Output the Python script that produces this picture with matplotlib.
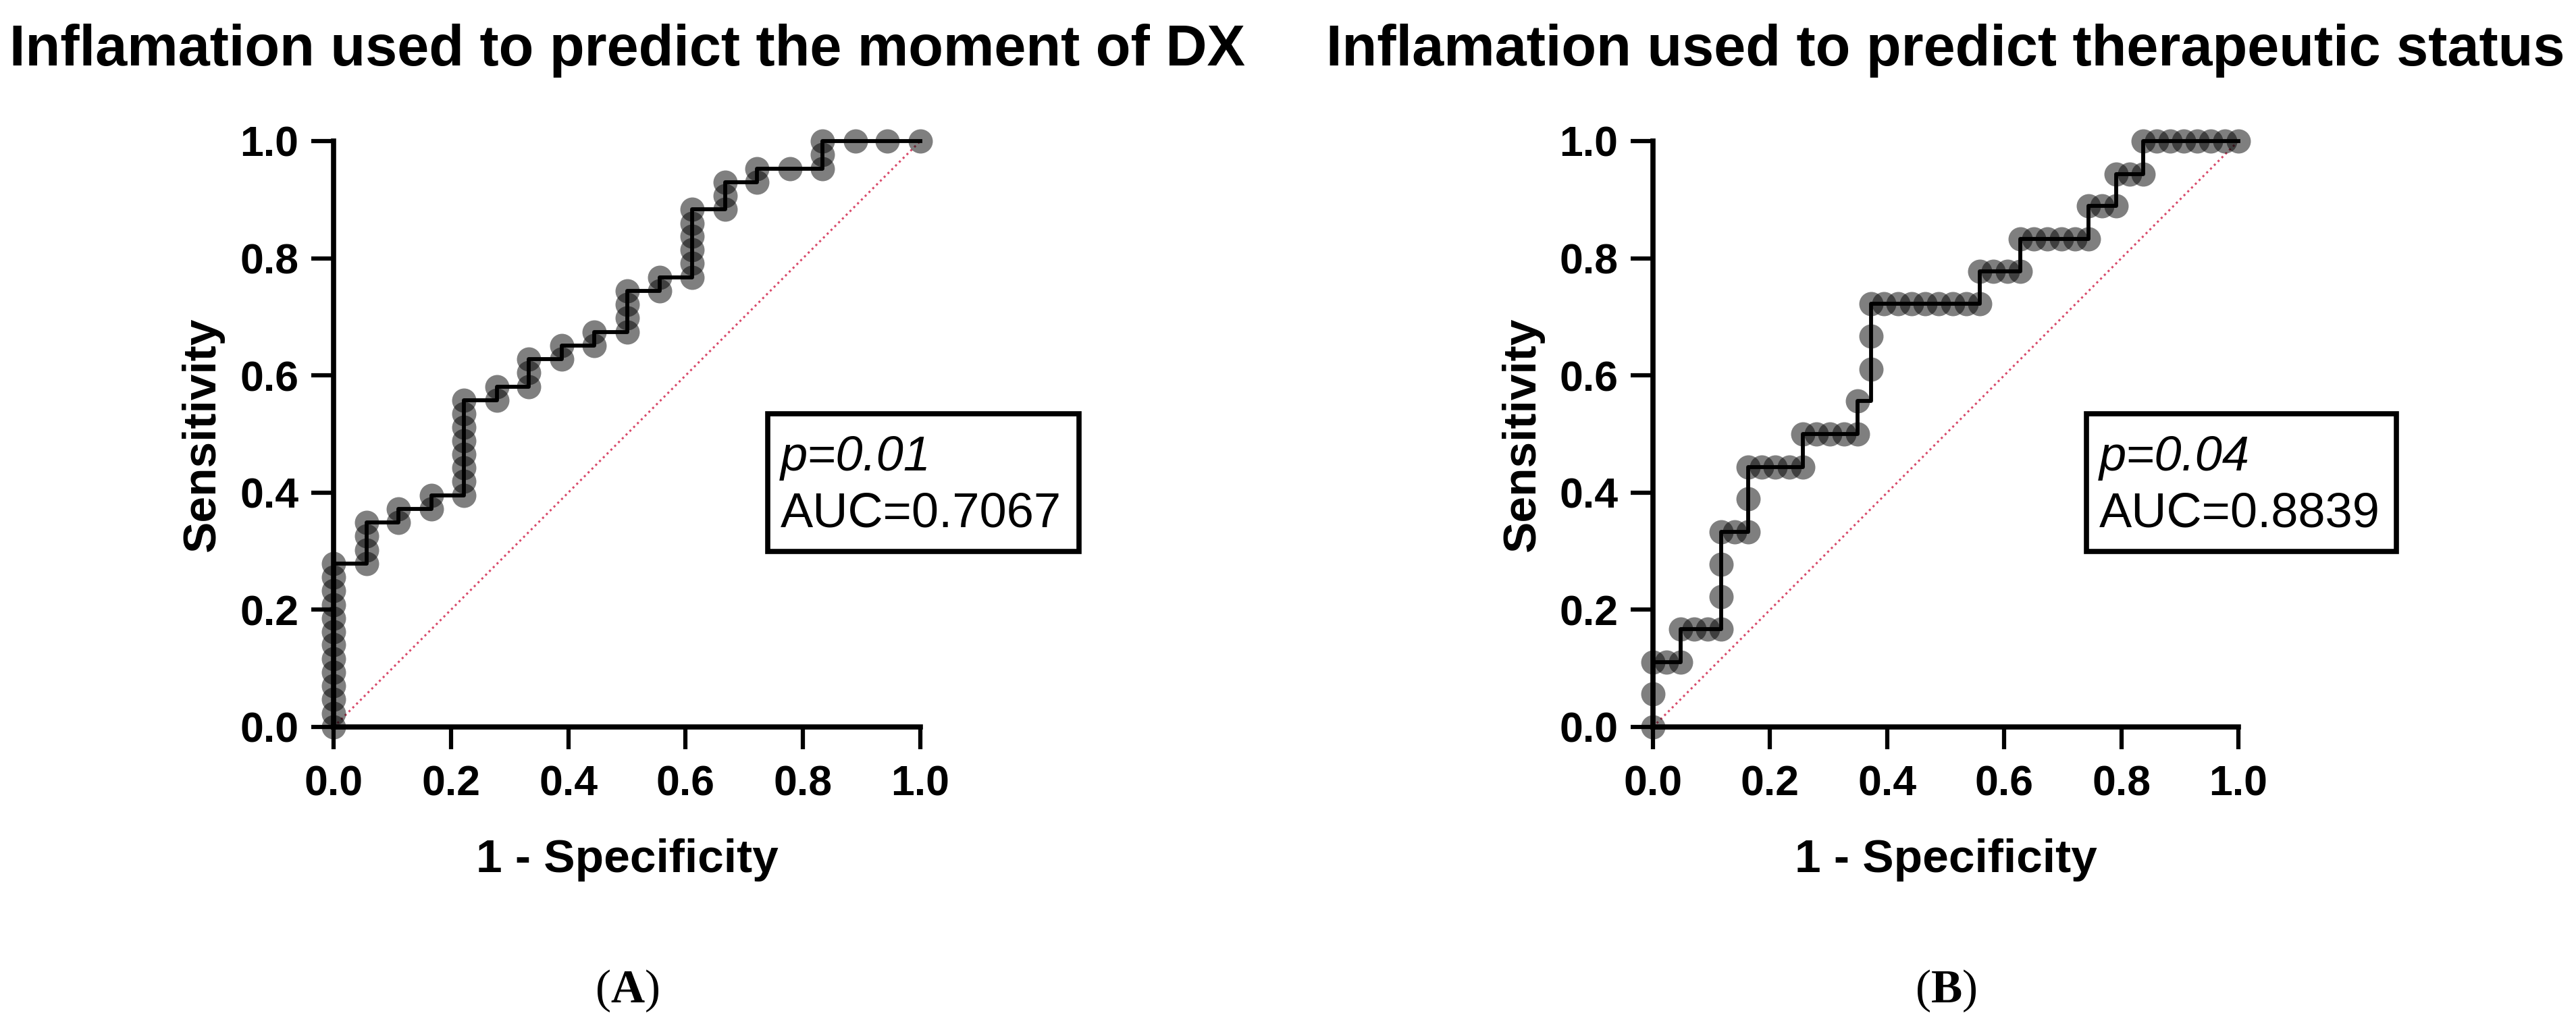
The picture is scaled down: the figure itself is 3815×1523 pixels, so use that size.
import matplotlib
matplotlib.use("Agg")
import matplotlib.pyplot as plt
from matplotlib.patches import Rectangle

plt.rcParams["font.family"] = ["Liberation Sans", "DejaVu Sans"]
plt.rcParams["mathtext.fontset"] = "custom"
plt.rcParams["mathtext.rm"] = "Liberation Serif"
plt.rcParams["mathtext.bf"] = "Liberation Serif:bold"

# ---------- data ----------
TITLES = ["Inflamation used to predict the moment of DX",
          "Inflamation used to predict therapeutic status"]
P_TEXT = ["p=0.01", "p=0.04"]
AUC_TEXT = ["AUC=0.7067", "AUC=0.8839"]
PANEL_TAGS = ["A", "B"]
TICKS = [0.0, 0.2, 0.4, 0.6, 0.8, 1.0]
TICK_LABELS = ["0.0", "0.2", "0.4", "0.6", "0.8", "1.0"]

# panel A: 1 - specificity / sensitivity
dx_fpr = [0, 0, 0, 0, 0, 0, 0, 0, 0, 0, 0, 0, 0,
          0.056, 0.056, 0.056, 0.056,
          0.111, 0.111,
          0.167, 0.167,
          0.222, 0.222, 0.222, 0.222, 0.222, 0.222, 0.222, 0.222,
          0.278, 0.278,
          0.333, 0.333, 0.333,
          0.389, 0.389,
          0.444, 0.444,
          0.5, 0.5, 0.5, 0.5,
          0.556, 0.556,
          0.611, 0.611, 0.611, 0.611, 0.611, 0.611,
          0.667, 0.667, 0.667,
          0.722, 0.722,
          0.778,
          0.833, 0.833, 0.833,
          0.889, 0.944, 1.0]
dx_tpr = [0, 0.023, 0.047, 0.070, 0.093, 0.116, 0.140, 0.163, 0.186, 0.209, 0.233, 0.256, 0.279,
          0.279, 0.302, 0.326, 0.349,
          0.349, 0.372,
          0.372, 0.395,
          0.395, 0.419, 0.442, 0.465, 0.488, 0.512, 0.535, 0.558,
          0.558, 0.581,
          0.581, 0.605, 0.628,
          0.628, 0.651,
          0.651, 0.674,
          0.674, 0.698, 0.721, 0.744,
          0.744, 0.767,
          0.767, 0.791, 0.814, 0.837, 0.860, 0.884,
          0.884, 0.907, 0.930,
          0.930, 0.953,
          0.953,
          0.953, 0.977, 1.0,
          1.0, 1.0, 1.0]

# panel B
tx_fpr = [0, 0, 0,
          0.023,
          0.047, 0.047,
          0.070, 0.093,
          0.116, 0.116, 0.116, 0.116,
          0.140,
          0.163, 0.163, 0.163,
          0.186, 0.209, 0.233,
          0.256, 0.256,
          0.279, 0.302, 0.326,
          0.349, 0.349,
          0.372, 0.372, 0.372,
          0.395, 0.419, 0.442, 0.465, 0.488, 0.512, 0.535,
          0.558, 0.558,
          0.581, 0.605,
          0.628, 0.628,
          0.651, 0.674, 0.698, 0.721,
          0.744, 0.744,
          0.767,
          0.791, 0.791,
          0.814,
          0.837, 0.837,
          0.860, 0.884, 0.907, 0.930, 0.953, 0.977, 1.0]
tx_tpr = [0, 0.056, 0.111,
          0.111,
          0.111, 0.167,
          0.167, 0.167,
          0.167, 0.222, 0.278, 0.333,
          0.333,
          0.333, 0.389, 0.444,
          0.444, 0.444, 0.444,
          0.444, 0.5,
          0.5, 0.5, 0.5,
          0.5, 0.556,
          0.611, 0.667, 0.722,
          0.722, 0.722, 0.722, 0.722, 0.722, 0.722, 0.722,
          0.722, 0.778,
          0.778, 0.778,
          0.778, 0.833,
          0.833, 0.833, 0.833, 0.833,
          0.833, 0.889,
          0.889,
          0.889, 0.944,
          0.944,
          0.944, 1.0,
          1.0, 1.0, 1.0, 1.0, 1.0, 1.0, 1.0]

DIAG_COLOR = "#d84a6a"
W, H = 3815, 1523


def draw_panel(ax, fpr, tpr, title, p_txt, auc_txt, tag):
    ax.plot([0, 1], [0, 1], color=DIAG_COLOR, lw=2.2, ls=(0, (1, 1.6)),
            zorder=1, clip_on=False)
    ax.scatter(fpr, tpr, s=670, color="black", alpha=0.5, linewidths=0,
               zorder=2, clip_on=False)
    ax.plot(fpr, tpr, drawstyle="steps-post", color="black", lw=4.2,
            zorder=3, clip_on=False)

    ax.set_xlim(0, 1)
    ax.set_ylim(0, 1)
    for side in ("top", "right"):
        ax.spines[side].set_visible(False)
    for side in ("left", "bottom"):
        ax.spines[side].set_linewidth(5.5)
        ax.spines[side].set_capstyle("projecting")
    ax.set_xticks(TICKS, labels=TICK_LABELS, fontsize=45, fontweight="bold")
    ax.set_yticks(TICKS, labels=TICK_LABELS, fontsize=45, fontweight="bold")
    ax.tick_params(direction="out", length=24, width=4.5, pad=13)
    ax.tick_params(axis="x", pad=16)

    ax.set_xlabel("1 - Specificity", fontsize=50, fontweight="bold")
    ax.xaxis.set_label_coords(0.5, -0.19)
    ax.set_ylabel("Sensitivity", fontsize=50, fontweight="bold", va="center")
    ax.yaxis.set_label_coords(-0.223, 0.5)

    # p / AUC box
    ax.add_patch(Rectangle((0.74, 0.30), 0.53, 0.235, facecolor="white",
                           edgecolor="black", lw=5.5, zorder=4, clip_on=False))
    ax.text(0.762, 0.438, p_txt, fontsize=52, style="italic", va="baseline",
            zorder=5, clip_on=False)
    ax.text(0.762, 0.342, auc_txt, fontsize=52, va="baseline",
            zorder=5, clip_on=False)

    bb = ax.get_position()
    cx = bb.x0 + bb.width / 2
    fig.text(cx, 1 - 97 / H, title, fontsize=61, fontweight="bold",
             ha="center", va="baseline")
    fig.text(cx, 1 - 1485 / H, r"($\mathbf{" + tag + "}$)", fontsize=50,
             family="Liberation Serif", ha="center", va="baseline")


fig = plt.figure(figsize=(W / 100, H / 100), dpi=100)
ax_a = fig.add_axes([494 / W, 1 - 1077 / H, 869 / W, 868 / H])
ax_b = fig.add_axes([2448 / W, 1 - 1077 / H, 867 / W, 868 / H])

draw_panel(ax_a, dx_fpr, dx_tpr, TITLES[0], P_TEXT[0], AUC_TEXT[0], PANEL_TAGS[0])
draw_panel(ax_b, tx_fpr, tx_tpr, TITLES[1], P_TEXT[1], AUC_TEXT[1], PANEL_TAGS[1])

fig.savefig("out.png", dpi=100)
